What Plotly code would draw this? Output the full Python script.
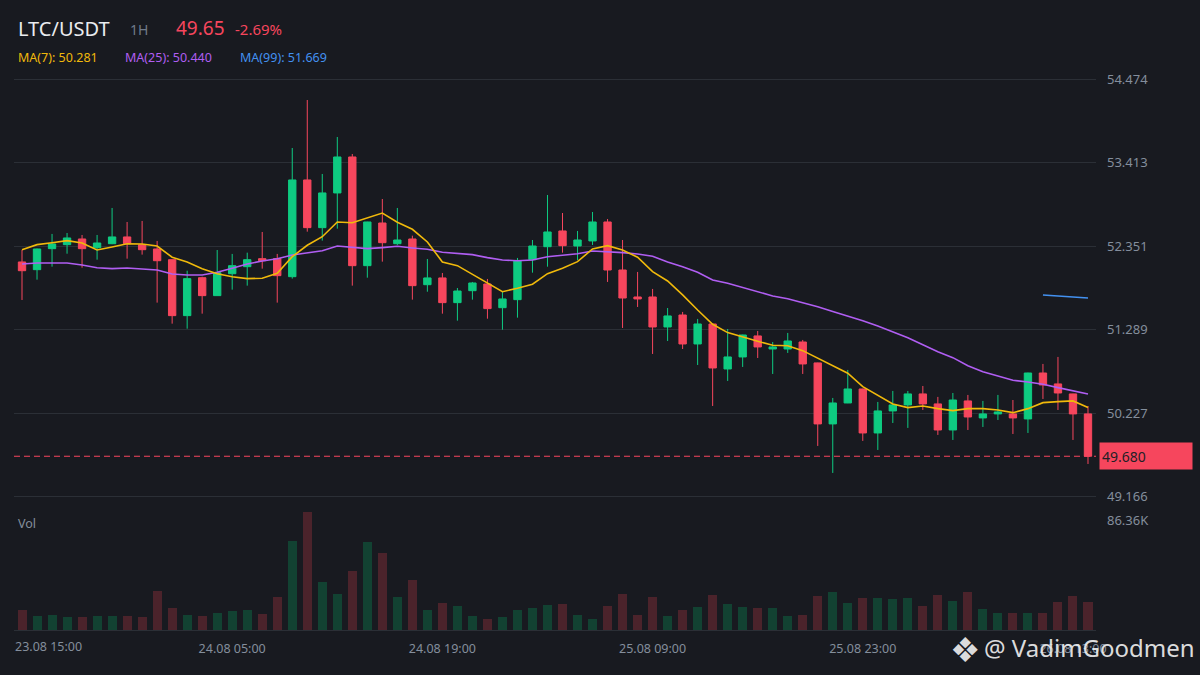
import pandas as pd
import plotly.graph_objects as go
from plotly.subplots import make_subplots

# LTC/USDT 1H, 72 candles starting 23.08 15:00
start = "2024-08-23 15:00"

opens = [
    52.149, 52.051, 52.318, 52.369, 52.441, 52.330, 52.381, 52.467, 52.369, 52.314,
    52.178, 51.467, 51.949, 51.721, 52.000, 52.089, 52.191, 52.193, 51.962, 53.191,
    52.585, 53.026, 53.483, 52.102, 52.644, 52.381, 52.441, 51.860, 51.946, 51.632,
    51.784, 51.869, 51.568, 51.670, 52.178, 52.343, 52.543, 52.352, 52.416, 52.657,
    52.047, 51.704, 51.704, 51.323, 51.475, 51.107, 51.361, 50.789, 50.942, 51.209,
    51.043, 51.043, 51.132, 50.866, 50.091, 50.357, 50.535, 49.976, 50.256, 50.332,
    50.472, 50.345, 50.014, 50.383, 50.167, 50.218, 50.218, 50.154, 50.738, 50.599,
    50.472, 50.218,
]
highs = [
    52.301, 52.320, 52.505, 52.517, 52.492, 52.492, 52.835, 52.657, 52.670, 52.416,
    52.180, 52.038, 51.962, 52.301, 52.251, 52.267, 52.530, 52.251, 53.597, 54.207,
    53.267, 53.737, 53.521, 52.660, 52.949, 52.835, 52.483, 52.187, 52.009, 51.818,
    51.895, 51.933, 51.768, 52.200, 52.428, 53.000, 52.771, 52.543, 52.784, 52.695,
    52.428, 52.022, 51.806, 51.564, 51.514, 51.425, 51.365, 51.297, 51.225, 51.272,
    51.132, 51.247, 51.158, 50.870, 50.421, 50.777, 50.538, 50.370, 50.510, 50.510,
    50.573, 50.434, 50.484, 50.459, 50.383, 50.459, 50.395, 50.742, 50.853, 50.942,
    50.475, 50.319,
]
lows = [
    51.666, 51.924, 52.089, 52.254, 52.076, 52.178, 52.375, 52.191, 52.242, 51.632,
    51.365, 51.301, 51.492, 51.718, 51.797, 51.848, 52.064, 51.632, 51.937, 52.534,
    52.420, 52.572, 51.848, 51.949, 52.153, 52.365, 51.670, 51.771, 51.492, 51.403,
    51.670, 51.428, 51.288, 51.441, 52.013, 52.089, 52.267, 52.174, 52.365, 51.895,
    51.310, 51.577, 50.980, 51.145, 51.043, 50.840, 50.319, 50.637, 50.815, 50.929,
    50.726, 50.993, 50.726, 49.811, 49.468, 50.355, 49.875, 49.760, 50.103, 50.040,
    50.268, 49.951, 49.887, 50.014, 50.052, 50.141, 49.963, 49.976, 50.408, 50.268,
    49.887, 49.582,
]
closes = [
    52.038, 52.314, 52.378, 52.454, 52.318, 52.390, 52.467, 52.381, 52.305, 52.165,
    51.467, 51.937, 51.721, 52.013, 52.102, 52.178, 52.165, 51.975, 53.191, 52.585,
    53.026, 53.483, 52.102, 52.657, 52.394, 52.428, 51.848, 51.946, 51.632, 51.780,
    51.882, 51.556, 51.679, 52.162, 52.352, 52.530, 52.356, 52.428, 52.657, 52.047,
    51.691, 51.679, 51.323, 51.463, 51.107, 51.361, 50.802, 50.942, 51.221, 51.069,
    51.069, 51.145, 50.853, 50.091, 50.357, 50.535, 49.976, 50.256, 50.332, 50.472,
    50.345, 50.014, 50.395, 50.179, 50.218, 50.243, 50.167, 50.738, 50.586, 50.484,
    50.218, 49.680,
]

ma7 = [
    52.305, 52.369, 52.394, 52.420, 52.390, 52.301, 52.339, 52.381, 52.378, 52.352,
    52.209, 52.149, 52.064, 52.000, 51.962, 51.937, 51.942, 52.005, 52.216, 52.361,
    52.470, 52.657, 52.648, 52.712, 52.771, 52.653, 52.564, 52.403, 52.149, 52.102,
    51.993, 51.878, 51.771, 51.815, 51.866, 52.000, 52.070, 52.153, 52.314, 52.356,
    52.301, 52.209, 52.026, 51.907, 51.730, 51.539, 51.357, 51.251, 51.192, 51.141,
    51.090, 51.085, 51.022, 50.929, 50.827, 50.735, 50.564, 50.459, 50.345, 50.298,
    50.319, 50.285, 50.260, 50.285, 50.285, 50.268, 50.234, 50.285, 50.361, 50.374,
    50.383, 50.300,
]
ma25 = [
    52.123, 52.136, 52.136, 52.136, 52.111, 52.076, 52.064, 52.073, 52.060, 52.047,
    51.996, 51.984, 51.984, 52.018, 52.069, 52.123, 52.162, 52.190, 52.238, 52.267,
    52.292, 52.352, 52.336, 52.318, 52.331, 52.348, 52.327, 52.310, 52.272, 52.259,
    52.242, 52.204, 52.174, 52.165, 52.174, 52.216, 52.234, 52.254, 52.289, 52.280,
    52.267, 52.251, 52.221, 52.149, 52.089, 52.018, 51.920, 51.878, 51.827, 51.776,
    51.717, 51.682, 51.632, 51.581, 51.520, 51.463, 51.403, 51.336, 51.263, 51.187,
    51.098, 51.009, 50.933, 50.831, 50.755, 50.704, 50.646, 50.624, 50.595, 50.552,
    50.514, 50.470,
]
ma99 = [None] * 68 + [51.730, 51.717, 51.710, 51.691]

# volume in thousands of LTC
volumes = [
    15.9, 11.2, 12.0, 10.4, 10.4, 11.2, 11.2, 11.2, 10.4, 30.9,
    17.5, 12.0, 11.2, 13.6, 15.2, 15.9, 12.8, 26.1, 70.1, 92.9,
    37.9, 28.5, 46.6, 69.3, 60.7, 26.1, 39.5, 15.9, 21.4, 19.1,
    11.2, 8.9, 10.4, 15.9, 17.5, 19.9, 20.6, 12.0, 8.9, 19.1,
    28.5, 12.0, 26.1, 11.2, 15.9, 18.3, 27.7, 20.6, 18.3, 17.5,
    17.5, 11.2, 12.0, 26.9, 30.1, 21.4, 25.4, 25.4, 24.6, 25.4,
    19.1, 27.7, 23.0, 30.1, 16.7, 13.6, 13.6, 13.6, 13.6, 22.2,
    26.9, 22.2,
]

price_ticks = [54.474, 53.413, 52.351, 51.289, 50.227, 49.166]
last_price = 49.680
vol_tick = 86.36

UP = "#0ecb81"
DOWN = "#f6465d"
BG = "#181a20"
GRID = "#2b2f36"
TXT = "#848e9c"
FONT = "Noto Sans"

times = pd.date_range(start, periods=len(opens), freq="h")
vol_colors = ["#124232" if c >= o else "#4b232b" for o, c in zip(opens, closes)]

# page geometry (pixels)
W, H = 1200, 675
L, R, T, B = 14, 104, 70, 45
plot_w, plot_h = W - L - R, H - T - B
price_bottom_px = 500
vol_top_px = 505
top_tick_px, bottom_tick_px = 79, 496.7


def px(x):
    return (x - L) / plot_w


def py(y):
    return (H - B - y) / plot_h


k = (price_ticks[0] - price_ticks[-1]) / (bottom_tick_px - top_tick_px)
price_range = [
    price_ticks[0] - (price_bottom_px - top_tick_px) * k,
    price_ticks[0] + (top_tick_px - T) * k,
]
vol_range = [0, vol_tick * (H - B - vol_top_px) / (H - B - 520)]

fig = make_subplots(rows=2, cols=1, shared_xaxes=True, vertical_spacing=0)

fig.add_trace(
    go.Candlestick(
        x=times, open=opens, high=highs, low=lows, close=closes,
        increasing=dict(line=dict(color=UP, width=1), fillcolor=UP),
        decreasing=dict(line=dict(color=DOWN, width=1), fillcolor=DOWN),
        whiskerwidth=0, showlegend=False, hoverinfo="skip",
    ),
    row=1, col=1,
)
for vals, color in [(ma25, "#b05ef2"), (ma7, "#f0b90b"), (ma99, "#4391f0")]:
    fig.add_trace(
        go.Scatter(x=times, y=vals, mode="lines", line=dict(color=color, width=1.6),
                   showlegend=False, hoverinfo="skip"),
        row=1, col=1,
    )
fig.add_trace(
    go.Bar(x=times, y=volumes, marker=dict(color=vol_colors, line_width=0),
           width=0.6 * 3600 * 1000, showlegend=False, hoverinfo="skip"),
    row=2, col=1,
)

fig.add_shape(
    type="line", xref="paper", x0=0, x1=1, yref="y", y0=last_price, y1=last_price,
    line=dict(color=DOWN, width=1, dash="6px,4px"),
)

pad = pd.Timedelta(minutes=32)
fig.update_xaxes(range=[times[0] - pad, times[-1] + pad], showgrid=False,
                 zeroline=False, rangeslider_visible=False)
fig.update_xaxes(showticklabels=False, row=1, col=1)
fig.update_xaxes(
    tickvals=list(times[14::14]),
    ticktext=[t.strftime("%d.%m %H:%M") for t in times[14::14]],
    tickfont=dict(color=TXT, size=12.5, family=FONT),
    showline=True, linecolor=GRID, linewidth=1, ticks="", ticklabelstandoff=7,
    row=2, col=1,
)
fig.update_yaxes(
    domain=[py(price_bottom_px), 1], side="right", range=price_range,
    tickvals=price_ticks, ticktext=[f"{v:.3f}" for v in price_ticks],
    gridcolor=GRID, gridwidth=1, zeroline=False, ticks="", ticklabelstandoff=10,
    tickfont=dict(color=TXT, size=13, family=FONT),
    row=1, col=1,
)
fig.update_yaxes(
    domain=[0, py(vol_top_px)], side="right", range=vol_range,
    tickvals=[vol_tick], ticktext=[f"{vol_tick:.2f}K"], showgrid=False,
    zeroline=False, ticks="", ticklabelstandoff=10,
    tickfont=dict(color=TXT, size=13, family=FONT),
    row=2, col=1,
)


def label(text, x, y, size, color, xanchor="left", **kw):
    fig.add_annotation(text=text, x=px(x), y=py(y), xref="paper", yref="paper",
                       xanchor=xanchor, yanchor="middle", showarrow=False,
                       font=dict(size=size, color=color, family=FONT), **kw)


label("LTC/USDT", 16, 28, 20, "#eaecef")
label("1H", 128, 29, 14, "#707a8a")
label("49.65", 174, 28, 19, DOWN)
label("-2.69%", 233, 29, 15, DOWN)
label("MA(7): 50.281", 16, 57, 12.5, "#f0b90b")
label("MA(25): 50.440", 123, 57, 12.5, "#b05ef2")
label("MA(99): 51.669", 238, 57, 12.5, "#4391f0")
label("Vol", 16, 523, 12.5, TXT)
label(times[0].strftime("%d.%m %H:%M"), 13, 646, 12.5, TXT)

fig.add_annotation(
    text=f"{last_price:.3f}", x=px(1099), y=last_price, xref="paper", yref="y",
    xanchor="left", yanchor="middle", showarrow=False, align="left",
    bgcolor=DOWN, width=88, height=22, borderpad=2,
    font=dict(size=14, color="#1e2026", family=FONT),
)

label("❖", 948, 649, 34, "rgba(240,240,240,0.92)")
label("@ VadimGoodmen", 982, 648, 24, "rgba(240,240,240,0.92)")

fig.update_layout(
    width=W, height=H, margin=dict(l=L, r=R, t=T, b=B),
    paper_bgcolor=BG, plot_bgcolor=BG, bargap=0,
    font=dict(family=FONT, color=TXT),
)

fig.write_html(
    "out.html",
    config={"displayModeBar": False},
    post_script="document.body.style.margin='0';document.body.style.background='#181a20';",
)
